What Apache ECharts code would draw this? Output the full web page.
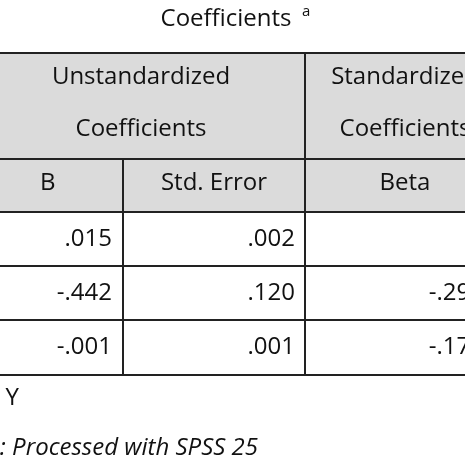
<!DOCTYPE html>
<html>
<head>
<meta charset="utf-8">
<script src="https://cdn.jsdelivr.net/npm/echarts@6/dist/echarts.min.js"></script>
<style>html,body{margin:0;padding:0;background:#fff}#main{width:465px;height:465px}</style>
</head>
<body>
<div id="main"></div>
<script>
// table contents
var title = 'Coefficients';
var groupHeaders = ['Unstandardized\nCoefficients', 'Standardized\nCoefficients'];
var subHeaders = ['B', 'Std. Error', 'Beta'];
var colB = ['.015', '-.442', '-.001'];
var colSE = ['.002', '.120', '.001'];
var colBeta = ['', '-.295', '-.172'];
var footnote = 'a. Dependent Variable: Y';
var source = 'Source: Processed with SPSS 25';

var font = '"Open Sans", Lato, sans-serif';
var lineY = [53, 159, 212, 266, 320, 375];
var colX = [-80, 123, 305, 520];
var rowMid = [239, 293, 347];
var els = [];

// grey header band
els.push({ type: 'rect', shape: { x: 0, y: lineY[0], width: 465, height: lineY[2] - lineY[0] }, style: { fill: '#dbdbdb' } });

// horizontal lines
for (var i = 0; i < lineY.length; i++) {
    els.push({ type: 'line', shape: { x1: 0, y1: lineY[i], x2: 465, y2: lineY[i] }, style: { stroke: '#222', lineWidth: 2 } });
}
// vertical lines
els.push({ type: 'line', shape: { x1: colX[2], y1: lineY[0], x2: colX[2], y2: lineY[5] }, style: { stroke: '#222', lineWidth: 2 } });
els.push({ type: 'line', shape: { x1: colX[1], y1: lineY[1], x2: colX[1], y2: lineY[5] }, style: { stroke: '#222', lineWidth: 2 } });

function txt(s, x, y, align, extra) {
    var st = { text: s, x: x, y: y, align: align, verticalAlign: 'middle', font: '24px ' + font, fill: '#111', lineHeight: 52 };
    if (extra) for (var k in extra) st[k] = extra[k];
    els.push({ type: 'text', style: st });
}

// title with superscript
txt(title, 226, 19, 'center');
txt('a', 302, 12, 'left', { font: '15px ' + font });

// group headers
txt(groupHeaders[0], 141, 103, 'center');
txt(groupHeaders[1], 405, 103, 'center');

// sub headers
txt(subHeaders[0], 40, 183, 'left');
txt(subHeaders[1], 214, 183, 'center');
txt(subHeaders[2], 405, 183, 'center');

// data cells
for (var r = 0; r < colB.length; r++) {
    txt(colB[r], 112, rowMid[r], 'right');
    txt(colSE[r], 295, rowMid[r], 'right');
    txt(colBeta[r], 484, rowMid[r], 'right');
}

// notes
txt(footnote, 19, 398, 'right');
txt(source, 258, 448, 'right', { font: 'italic 24px ' + font });

var chart = echarts.init(document.getElementById('main'));
chart.setOption({ animation: false, graphic: { elements: els } });
</script>
</body>
</html>
